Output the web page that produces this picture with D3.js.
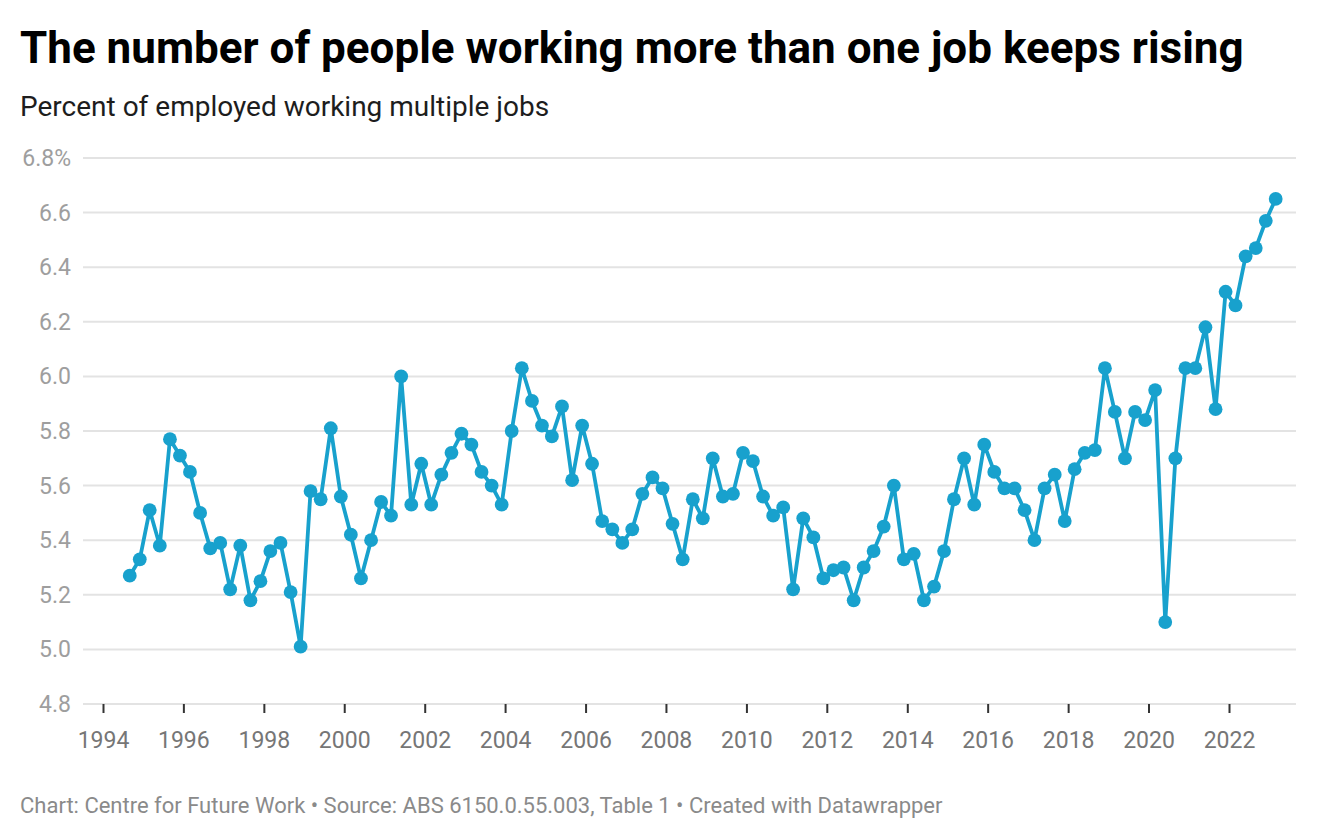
<!DOCTYPE html>
<html>
<head>
	<meta charset="utf-8">
	<title>Multiple job holders</title>
	<script type="text/javascript" src="https://cdn.jsdelivr.net/npm/d3@7"></script>
	<style>
		body {
			font-family: Roboto, "Noto Sans", Arial, sans-serif;
			margin: 0;
			background: #fff;
		}
	</style>
</head>

<body>

	<div id="chart"></div>

	<script>

	// data: quarterly, Sep 1994 - Mar 2023

	const quarters = [
		"1994-09", "1994-12",
		"1995-03", "1995-06", "1995-09", "1995-12",
		"1996-03", "1996-06", "1996-09", "1996-12",
		"1997-03", "1997-06", "1997-09", "1997-12",
		"1998-03", "1998-06", "1998-09", "1998-12",
		"1999-03", "1999-06", "1999-09", "1999-12",
		"2000-03", "2000-06", "2000-09", "2000-12",
		"2001-03", "2001-06", "2001-09", "2001-12",
		"2002-03", "2002-06", "2002-09", "2002-12",
		"2003-03", "2003-06", "2003-09", "2003-12",
		"2004-03", "2004-06", "2004-09", "2004-12",
		"2005-03", "2005-06", "2005-09", "2005-12",
		"2006-03", "2006-06", "2006-09", "2006-12",
		"2007-03", "2007-06", "2007-09", "2007-12",
		"2008-03", "2008-06", "2008-09", "2008-12",
		"2009-03", "2009-06", "2009-09", "2009-12",
		"2010-03", "2010-06", "2010-09", "2010-12",
		"2011-03", "2011-06", "2011-09", "2011-12",
		"2012-03", "2012-06", "2012-09", "2012-12",
		"2013-03", "2013-06", "2013-09", "2013-12",
		"2014-03", "2014-06", "2014-09", "2014-12",
		"2015-03", "2015-06", "2015-09", "2015-12",
		"2016-03", "2016-06", "2016-09", "2016-12",
		"2017-03", "2017-06", "2017-09", "2017-12",
		"2018-03", "2018-06", "2018-09", "2018-12",
		"2019-03", "2019-06", "2019-09", "2019-12",
		"2020-03", "2020-06", "2020-09", "2020-12",
		"2021-03", "2021-06", "2021-09", "2021-12",
		"2022-03", "2022-06", "2022-09", "2022-12",
		"2023-03"
	];

	const share = [
		5.27, 5.33,
		5.51, 5.38, 5.77, 5.71,
		5.65, 5.50, 5.37, 5.39,
		5.22, 5.38, 5.18, 5.25,
		5.36, 5.39, 5.21, 5.01,
		5.58, 5.55, 5.81, 5.56,
		5.42, 5.26, 5.40, 5.54,
		5.49, 6.00, 5.53, 5.68,
		5.53, 5.64, 5.72, 5.79,
		5.75, 5.65, 5.60, 5.53,
		5.80, 6.03, 5.91, 5.82,
		5.78, 5.89, 5.62, 5.82,
		5.68, 5.47, 5.44, 5.39,
		5.44, 5.57, 5.63, 5.59,
		5.46, 5.33, 5.55, 5.48,
		5.70, 5.56, 5.57, 5.72,
		5.69, 5.56, 5.49, 5.52,
		5.22, 5.48, 5.41, 5.26,
		5.29, 5.30, 5.18, 5.30,
		5.36, 5.45, 5.60, 5.33,
		5.35, 5.18, 5.23, 5.36,
		5.55, 5.70, 5.53, 5.75,
		5.65, 5.59, 5.59, 5.51,
		5.40, 5.59, 5.64, 5.47,
		5.66, 5.72, 5.73, 6.03,
		5.87, 5.70, 5.87, 5.84,
		5.95, 5.10, 5.70, 6.03,
		6.03, 6.18, 5.88, 6.31,
		6.26, 6.44, 6.47, 6.57,
		6.65
	];

	const yTicks = [4.8, 5.0, 5.2, 5.4, 5.6, 5.8, 6.0, 6.2, 6.4, 6.6, 6.8];
	const xTickYears = [1994, 1996, 1998, 2000, 2002, 2004, 2006, 2008, 2010, 2012, 2014, 2016, 2018, 2020, 2022];

	const title    = "The number of people working more than one job keeps rising";
	const subtitle = "Percent of employed working multiple jobs";
	const notes    = "Chart: Centre for Future Work • Source: ABS 6150.0.55.003, Table 1 • Created with Datawrapper";

	// customization

	const width     = 1320;
	const height    = 840;
	const lineColor = "#18a1cd";
	const gridColor = "#e3e3e3";

	const parse = d3.utcParse("%Y-%m");
	const data = quarters.map((q, i) => ({ date: parse(q), value: share[i] }));

	const svg = d3.select("#chart")
		.append("svg")
		.attr("width", width)
		.attr("height", height)
		.attr("viewBox", [0, 0, width, height])
		.attr("font-family", "Roboto, sans-serif");

	// headers
	svg.append("text")
		.attr("x", 20)
		.attr("y", 63)
		.attr("font-size", 44)
		.attr("font-weight", "bold")
		.attr("fill", "#000")
		.text(title);

	svg.append("text")
		.attr("x", 20)
		.attr("y", 116)
		.attr("font-size", 28)
		.attr("fill", "#1d1d1d")
		.text(subtitle);

	svg.append("text")
		.attr("x", 20)
		.attr("y", 813)
		.attr("font-size", 22)
		.attr("fill", "#8a8a8a")
		.text(notes);

	// scales
	const x = d3.scaleUtc()
		.domain([new Date(Date.UTC(1994, 0, 1)), new Date(Date.UTC(2022, 0, 1))])
		.range([103, 1229]);

	const y = d3.scaleLinear()
		.domain([4.8, 6.8])
		.range([704, 158]);

	const gridLeft = 83, gridRight = 1296;

	// y grid + labels
	const yAxis = svg.append("g");
	yAxis.selectAll("line")
		.data(yTicks)
		.join("line")
		.attr("x1", gridLeft)
		.attr("x2", gridRight)
		.attr("y1", d => y(d))
		.attr("y2", d => y(d))
		.attr("stroke", gridColor)
		.attr("stroke-width", 2);

	yAxis.selectAll("text")
		.data(yTicks)
		.join("text")
		.attr("x", 71)
		.attr("y", d => y(d))
		.attr("dy", "0.35em")
		.attr("text-anchor", "end")
		.attr("font-size", 23)
		.attr("fill", "#9e9e9e")
		.text((d, i) => d3.format(".1f")(d) + (i === yTicks.length - 1 ? "%" : ""));

	// x axis
	const xAxis = d3.axisBottom(x)
		.tickValues(xTickYears.map(yr => new Date(Date.UTC(yr, 0, 1))))
		.tickFormat(d3.utcFormat("%Y"))
		.tickSize(9)
		.tickPadding(19);

	const gx = svg.append("g")
		.attr("transform", `translate(0,${y(4.8)})`)
		.call(xAxis);

	gx.select(".domain").remove();
	gx.selectAll(".tick line")
		.attr("stroke", "#333")
		.attr("stroke-width", 2);
	gx.selectAll(".tick text")
		.attr("font-size", 23)
		.attr("font-family", "Roboto, sans-serif")
		.attr("fill", "#767676");

	// line + dots
	const line = d3.line()
		.x(d => x(d.date))
		.y(d => y(d.value));

	svg.append("path")
		.datum(data)
		.attr("fill", "none")
		.attr("stroke", lineColor)
		.attr("stroke-width", 3.8)
		.attr("stroke-linejoin", "round")
		.attr("d", line);

	svg.append("g")
		.selectAll("circle")
		.data(data)
		.join("circle")
		.attr("cx", d => x(d.date))
		.attr("cy", d => y(d.value))
		.attr("r", 6.9)
		.attr("fill", lineColor);

	</script>

</body>

</html>
